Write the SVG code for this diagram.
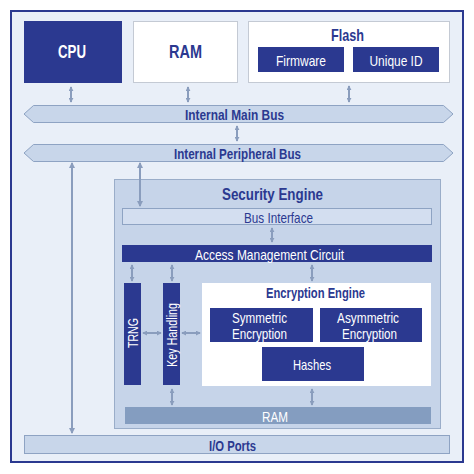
<svg xmlns="http://www.w3.org/2000/svg" width="474" height="474" viewBox="0 0 474 474">
<defs>
<marker id="ah" viewBox="0 0 6 6" refX="5" refY="3" markerWidth="6" markerHeight="6" markerUnits="userSpaceOnUse" orient="auto-start-reverse">
<path d="M0,0 L6,3 L0,6 Z" fill="#8a9dbd"/>
</marker>
<marker id="ahs" viewBox="0 0 6 6" refX="5" refY="3" markerWidth="5" markerHeight="5" markerUnits="userSpaceOnUse" orient="auto-start-reverse">
<path d="M0,0 L6,3 L0,6 Z" fill="#8a9dbd"/>
</marker>
</defs>
<style>
text{font-family:"Liberation Sans",Arial,sans-serif;text-anchor:middle;dominant-baseline:central}
.dark{fill:#2b3990}
.wt{fill:#ffffff}
.bt{fill:#2b3990}
.b{font-weight:bold}
.bus{fill:#c8d6ea;stroke:#8ea3c3;stroke-width:1}
.con{stroke:#8a9dbd;stroke-width:2;fill:none}
</style>
<rect x="11" y="11" width="452" height="451" fill="#e9eff8" stroke="#2b3990" stroke-width="2"/>
<g id="cpu"><rect x="24" y="21" width="98" height="62" class="dark"/><text x="72" y="52" class="wt b" font-size="18" textLength="28" lengthAdjust="spacingAndGlyphs">CPU</text></g>
<g id="ram"><rect x="133.5" y="21.5" width="104" height="61" fill="#fff" stroke="#c4cad4"/><text x="185.5" y="52" class="bt b" font-size="18" textLength="33" lengthAdjust="spacingAndGlyphs">RAM</text></g>
<g id="flash"><rect x="248.5" y="21.5" width="201" height="61" fill="#fff" stroke="#c4cad4"/><text x="347.5" y="35" class="bt b" font-size="17" textLength="33" lengthAdjust="spacingAndGlyphs">Flash</text>
<g id="firmware"><rect x="258" y="47" width="86" height="25" class="dark"/><text x="301" y="60" class="wt" font-size="15" textLength="50" lengthAdjust="spacingAndGlyphs">Firmware</text></g>
<g id="uniqueid"><rect x="353" y="47" width="86" height="25" class="dark"/><text x="396" y="60" class="wt" font-size="15" textLength="53" lengthAdjust="spacingAndGlyphs">Unique ID</text></g></g>
<g id="mainbus"><path d="M33.5,105.5 L443.5,105.5 L453,114 L443.5,122.5 L33.5,122.5 L24,114 Z" class="bus"/><text x="234.5" y="114.5" class="bt b" font-size="15" textLength="99" lengthAdjust="spacingAndGlyphs">Internal Main Bus</text></g>
<g id="periphbus"><path d="M33.5,144.5 L443.5,144.5 L453,153 L443.5,161.5 L33.5,161.5 L24,153 Z" class="bus"/><text x="237.5" y="153.5" class="bt b" font-size="15" textLength="127" lengthAdjust="spacingAndGlyphs">Internal Peripheral Bus</text></g>
<g id="security"><rect x="114.5" y="179.5" width="326" height="249" fill="#c6d4e9" stroke="#9aadc9"/><text x="272.5" y="194" class="bt b" font-size="17" textLength="101" lengthAdjust="spacingAndGlyphs">Security Engine</text></g>
<g id="busif"><rect x="122.5" y="208.5" width="309" height="16" fill="#d3def0" stroke="#8ea3c3"/><text x="278.5" y="217" class="bt" font-size="15" textLength="69" lengthAdjust="spacingAndGlyphs">Bus Interface</text></g>
<g id="amc"><rect x="122" y="245" width="310" height="17" class="dark"/><text x="269.5" y="254" class="wt" font-size="15" textLength="149" lengthAdjust="spacingAndGlyphs">Access Management Circuit</text></g>
<g id="trng"><rect x="124" y="283" width="17" height="102" class="dark"/><text transform="translate(132.5,333) rotate(-90)" class="wt" font-size="15" textLength="30" lengthAdjust="spacingAndGlyphs">TRNG</text></g>
<g id="keyhandling"><rect x="163" y="283" width="17" height="102" class="dark"/><text transform="translate(171.5,335) rotate(-90)" class="wt" font-size="15" textLength="64" lengthAdjust="spacingAndGlyphs">Key Handling</text></g>
<g id="encengine"><rect x="202" y="283" width="229" height="103" fill="#fff"/><text x="315.5" y="292.5" class="bt b" font-size="15" textLength="99" lengthAdjust="spacingAndGlyphs">Encryption Engine</text>
<g id="sym"><rect x="210" y="308" width="103" height="34" class="dark"/><text x="259.5" y="317.5" class="wt" font-size="15" textLength="55" lengthAdjust="spacingAndGlyphs">Symmetric</text><text x="259.5" y="333" class="wt" font-size="15" textLength="55" lengthAdjust="spacingAndGlyphs">Encryption</text></g>
<g id="asym"><rect x="320" y="308" width="102" height="34" class="dark"/><text x="368" y="317.5" class="wt" font-size="15" textLength="62" lengthAdjust="spacingAndGlyphs">Asymmetric</text><text x="369.5" y="333" class="wt" font-size="15" textLength="55" lengthAdjust="spacingAndGlyphs">Encryption</text></g>
<g id="hashes"><rect x="262" y="347" width="102" height="34" class="dark"/><text x="312" y="364" class="wt" font-size="15" textLength="38" lengthAdjust="spacingAndGlyphs">Hashes</text></g></g>
<g id="seram"><rect x="125" y="407" width="306" height="17" fill="#849dc0"/><text x="275" y="416.5" class="wt" font-size="15" textLength="26" lengthAdjust="spacingAndGlyphs">RAM</text></g>
<g id="ioports"><rect x="24.5" y="435.5" width="425" height="18" fill="#c8d6ea" stroke="#8ea3c3"/><text x="232.5" y="445" class="bt b" font-size="15" textLength="47" lengthAdjust="spacingAndGlyphs">I/O Ports</text></g>
<g id="connectors">
<line x1="71" y1="87" x2="71" y2="102" class="con" marker-start="url(#ahs)" marker-end="url(#ahs)"/>
<line x1="188" y1="87" x2="188" y2="102" class="con" marker-start="url(#ahs)" marker-end="url(#ahs)"/>
<line x1="349" y1="86" x2="349" y2="102" class="con" marker-start="url(#ahs)" marker-end="url(#ahs)"/>
<line x1="237" y1="126" x2="237" y2="141" class="con" marker-start="url(#ahs)" marker-end="url(#ahs)"/>
<line x1="72" y1="163" x2="72" y2="433" class="con" marker-start="url(#ah)" marker-end="url(#ah)"/>
<line x1="140" y1="163" x2="140" y2="206" class="con" marker-start="url(#ah)" marker-end="url(#ah)"/>
<line x1="272" y1="228" x2="272" y2="242" class="con" marker-start="url(#ahs)" marker-end="url(#ahs)"/>
<line x1="132" y1="265" x2="132" y2="281" class="con" marker-start="url(#ahs)" marker-end="url(#ahs)"/>
<line x1="172" y1="265" x2="172" y2="281" class="con" marker-start="url(#ahs)" marker-end="url(#ahs)"/>
<line x1="312" y1="265" x2="312" y2="281" class="con" marker-start="url(#ahs)" marker-end="url(#ahs)"/>
<line x1="143" y1="333" x2="161" y2="333" class="con" marker-start="url(#ahs)" marker-end="url(#ahs)"/>
<line x1="182" y1="333" x2="200" y2="333" class="con" marker-start="url(#ahs)" marker-end="url(#ahs)"/>
<line x1="172" y1="389" x2="172" y2="405" class="con" marker-start="url(#ahs)" marker-end="url(#ahs)"/>
<line x1="312" y1="389" x2="312" y2="405" class="con" marker-start="url(#ahs)" marker-end="url(#ahs)"/>
</g>
</svg>
